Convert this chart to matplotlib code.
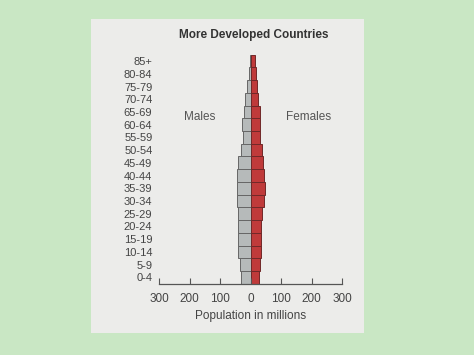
#!/usr/bin/env python3
# -*- coding: utf-8 -*-

import matplotlib
matplotlib.use("Agg")
import matplotlib.pyplot as plt
import numpy as np
from matplotlib.patches import Rectangle

ages = ["0-4", "5-9", "10-14", "15-19", "20-24", "25-29", "30-34", "35-39",
        "40-44", "45-49", "50-54", "55-59", "60-64", "65-69", "70-74",
        "75-79", "80-84", "85+"]
males = [31, 36, 42, 42, 42, 42, 44, 46, 44, 41, 33, 25, 28, 23, 18, 11, 5, 3]
females = [27, 29, 32, 34, 35, 38, 42, 45, 43, 41, 36, 30, 31, 30, 25, 19, 16, 13]
xticks = [-300, -200, -100, 0, 100, 200, 300]

plt.rcParams["font.family"] = ["Liberation Sans", "DejaVu Sans"]

W, H = 474, 355
fig = plt.figure(figsize=(W / 100, H / 100), dpi=100)
fig.patch.set_facecolor("#c9e7c4")

# light page behind the chart
fig.patches.append(Rectangle((91 / W, 22 / H), 273 / W, 314 / H,
                             transform=fig.transFigure, facecolor="#ececea",
                             edgecolor="none", zorder=-1))

ax = fig.add_axes([159.3 / W, 71.3 / H, 183 / W, 229 / H])
ax.set_facecolor("none")
y = np.arange(len(ages))
ax.barh(y, [-m for m in males], height=1.0, color="#b6baba",
        edgecolor="#666666", linewidth=0.7)
ax.barh(y, females, height=1.0, color="#bf3a3a",
        edgecolor="#702828", linewidth=0.7)

ax.set_xlim(-300, 300)
ax.set_ylim(-0.5, len(ages) - 0.5)
ax.set_xticks(xticks)
ax.set_xticklabels([str(abs(t)) for t in xticks], fontsize=8.5, color="#444444")
ax.set_yticks(y)
ax.set_yticklabels(ages, fontsize=8, color="#444444")
ax.tick_params(axis="y", length=0, pad=5)
ax.tick_params(axis="x", direction="in", length=4, width=0.8,
               color="#555555", pad=7)
for s in ["left", "right", "top"]:
    ax.spines[s].set_visible(False)
ax.spines["bottom"].set_color("#555555")
ax.spines["bottom"].set_linewidth(0.9)
ax.set_xlabel("Population in millions", fontsize=8.5, color="#444444",
              labelpad=3)

fig.text(254 / W, 1 - 35 / H, "More Developed Countries", fontsize=8.5,
         fontweight="bold", color="#333333", ha="center", va="center")
fig.text(200 / W, 1 - 117 / H, "Males", fontsize=8.5, color="#555555",
         ha="center", va="center")
fig.text(309 / W, 1 - 117 / H, "Females", fontsize=8.5, color="#555555",
         ha="center", va="center")

fig.savefig("out.png", dpi=100, facecolor=fig.get_facecolor())
plt.close(fig)
